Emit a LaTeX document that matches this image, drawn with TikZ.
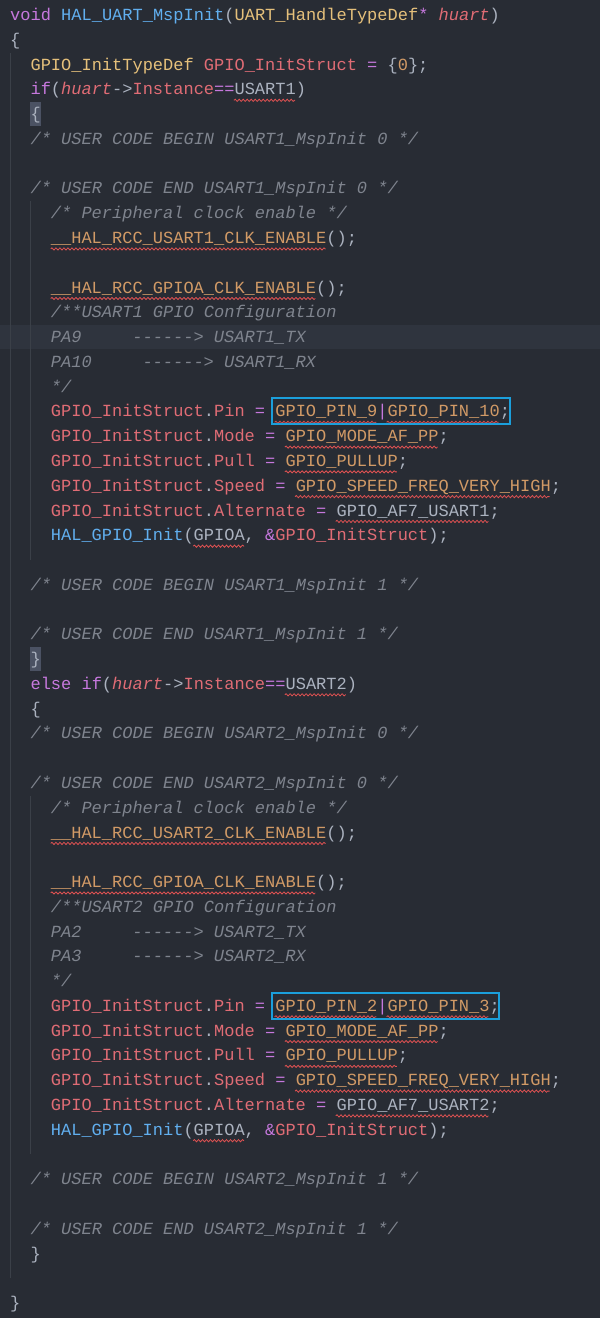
\documentclass[tikz,border=0pt]{standalone}
\usepackage{fontspec}
\setmonofont{Liberation Mono}
\usetikzlibrary{decorations.pathmorphing}
\definecolor{bg}{HTML}{282C34}
\definecolor{kw}{HTML}{C678DD}
\definecolor{fn}{HTML}{61AFEF}
\definecolor{ty}{HTML}{E5C07B}
\definecolor{va}{HTML}{E06C75}
\definecolor{pu}{HTML}{ABB2BF}
\definecolor{nu}{HTML}{D19A66}
\definecolor{co}{HTML}{7F848E}
\definecolor{gd}{HTML}{3B4048}
\definecolor{sq}{HTML}{E05252}
\definecolor{bx}{HTML}{1B9FDB}
\definecolor{hl}{HTML}{2F343E}
\definecolor{bm}{HTML}{4B5263}
\newcommand\K[1]{\textcolor{kw}{#1}}
\newcommand\F[1]{\textcolor{fn}{#1}}
\newcommand\T[1]{\textcolor{ty}{#1}}
\newcommand\V[1]{\textcolor{va}{#1}}
\newcommand\Pu[1]{\textcolor{pu}{#1}}
\newcommand\Nu[1]{\textcolor{nu}{#1}}
\newcommand\Cm[1]{\textcolor{co}{\itshape #1}}
\newcommand\cx[1]{10+#1*10.18}
\newcommand\cy[1]{-(15+(#1-1)*24.77)}
\newcommand\codeln[3]{\node[codetext] (l#1c#2) at ({\cx{#2}},{\cy{#1}-5.6}) {#3};}
\newcommand\sq[3]{\draw[squig] ({\cx{#2}},{\cy{#1}-11}) -- ({\cx{#3}},{\cy{#1}-11});}
\begin{document}
\begin{tikzpicture}[x=1pt,y=1pt,
  codetext/.style={anchor=base west,inner sep=0pt,font=\ttfamily\fontsize{17}{20}\selectfont,text=pu},
  squig/.style={draw=sq,line width=0.8pt,decorate,decoration={snake,segment length=4pt,amplitude=1.1pt}},
  guide/.style={draw=gd,line width=1pt},
  pinbox/.style={draw=bx,line width=2pt}]
\fill[bg] (0,0) rectangle (600,-1318);
\useasboundingbox (0,0) rectangle (600,-1318);
% current line
\fill[hl] (0,{\cy{14}+12.4}) rectangle (600,{\cy{14}-12.4});
% bracket matches
\fill[bm] ({\cx{2}},{\cy{5}+12}) rectangle ({\cx{3}},{\cy{5}-12});
\fill[bm] ({\cx{2}},{\cy{27}+12}) rectangle ({\cx{3}},{\cy{27}-12});
% indent guides
\coordinate (g1a) at (10,{\cy{3}+12});
\coordinate (g1b) at (10,{\cy{52}});
\draw[guide] (g1a) -- (g1b);
\coordinate (g2a) at (30,{\cy{9}+12});
\coordinate (g2b) at (30,{\cy{23}});
\draw[guide] (g2a) -- (g2b);
\coordinate (g3a) at (30,{\cy{33}+12});
\coordinate (g3b) at (30,{\cy{47}});
\draw[guide] (g3a) -- (g3b);

\codeln{1}{0}{\K{void} \F{HAL\_UART\_MspInit}\Pu{(}\T{UART\_HandleTypeDef}\K{*} \V{\itshape huart}\Pu{)}}
\codeln{2}{0}{\{}
\codeln{3}{2}{\T{GPIO\_InitTypeDef} \V{GPIO\_InitStruct} \K{=} \{\Nu{0}\};}
\codeln{4}{2}{\K{if}(\V{\itshape huart}->\V{Instance}\K{==}USART1)}
\sq{4}{22}{28}
\codeln{5}{2}{\{}
\codeln{6}{2}{\Cm{/* USER CODE BEGIN USART1\_MspInit 0 */}}
\codeln{8}{2}{\Cm{/* USER CODE END USART1\_MspInit 0 */}}
\codeln{9}{4}{\Cm{/* Peripheral clock enable */}}
\codeln{10}{4}{\Nu{\_\_HAL\_RCC\_USART1\_CLK\_ENABLE}();}
\sq{10}{4}{31}
\codeln{12}{4}{\Nu{\_\_HAL\_RCC\_GPIOA\_CLK\_ENABLE}();}
\sq{12}{4}{30}
\codeln{13}{4}{\Cm{/**USART1 GPIO Configuration}}
\codeln{14}{4}{\Cm{PA9}}
\codeln{14}{12}{\Cm{------> USART1\_TX}}
\codeln{15}{4}{\Cm{PA10}}
\codeln{15}{13}{\Cm{------> USART1\_RX}}
\codeln{16}{4}{\Cm{*/}}
\codeln{17}{4}{\V{GPIO\_InitStruct}.\V{Pin} \K{=} \Nu{GPIO\_PIN\_9}\K{|}\Nu{GPIO\_PIN\_10};}
\sq{17}{26}{36}\sq{17}{37}{48}
\codeln{18}{4}{\V{GPIO\_InitStruct}.\V{Mode} \K{=} \Nu{GPIO\_MODE\_AF\_PP};}
\sq{18}{27}{42}
\codeln{19}{4}{\V{GPIO\_InitStruct}.\V{Pull} \K{=} \Nu{GPIO\_PULLUP};}
\sq{19}{27}{38}
\codeln{20}{4}{\V{GPIO\_InitStruct}.\V{Speed} \K{=} \Nu{GPIO\_SPEED\_FREQ\_VERY\_HIGH};}
\sq{20}{28}{53}
\codeln{21}{4}{\V{GPIO\_InitStruct}.\V{Alternate} \K{=} GPIO\_AF7\_USART1;}
\sq{21}{32}{47}
\codeln{22}{4}{\F{HAL\_GPIO\_Init}(GPIOA, \K{\&}\V{GPIO\_InitStruct});}
\sq{22}{18}{23}
\codeln{24}{2}{\Cm{/* USER CODE BEGIN USART1\_MspInit 1 */}}
\codeln{26}{2}{\Cm{/* USER CODE END USART1\_MspInit 1 */}}
\codeln{27}{2}{\}}
\codeln{28}{2}{\K{else} \K{if}(\V{\itshape huart}->\V{Instance}\K{==}USART2)}
\sq{28}{27}{33}
\codeln{29}{2}{\{}
\codeln{30}{2}{\Cm{/* USER CODE BEGIN USART2\_MspInit 0 */}}
\codeln{32}{2}{\Cm{/* USER CODE END USART2\_MspInit 0 */}}
\codeln{33}{4}{\Cm{/* Peripheral clock enable */}}
\codeln{34}{4}{\Nu{\_\_HAL\_RCC\_USART2\_CLK\_ENABLE}();}
\sq{34}{4}{31}
\codeln{36}{4}{\Nu{\_\_HAL\_RCC\_GPIOA\_CLK\_ENABLE}();}
\sq{36}{4}{30}
\codeln{37}{4}{\Cm{/**USART2 GPIO Configuration}}
\codeln{38}{4}{\Cm{PA2}}
\codeln{38}{12}{\Cm{------> USART2\_TX}}
\codeln{39}{4}{\Cm{PA3}}
\codeln{39}{12}{\Cm{------> USART2\_RX}}
\codeln{40}{4}{\Cm{*/}}
\codeln{41}{4}{\V{GPIO\_InitStruct}.\V{Pin} \K{=} \Nu{GPIO\_PIN\_2}\K{|}\Nu{GPIO\_PIN\_3};}
\sq{41}{26}{36}\sq{41}{37}{47}
\codeln{42}{4}{\V{GPIO\_InitStruct}.\V{Mode} \K{=} \Nu{GPIO\_MODE\_AF\_PP};}
\sq{42}{27}{42}
\codeln{43}{4}{\V{GPIO\_InitStruct}.\V{Pull} \K{=} \Nu{GPIO\_PULLUP};}
\sq{43}{27}{38}
\codeln{44}{4}{\V{GPIO\_InitStruct}.\V{Speed} \K{=} \Nu{GPIO\_SPEED\_FREQ\_VERY\_HIGH};}
\sq{44}{28}{53}
\codeln{45}{4}{\V{GPIO\_InitStruct}.\V{Alternate} \K{=} GPIO\_AF7\_USART2;}
\sq{45}{32}{47}
\codeln{46}{4}{\F{HAL\_GPIO\_Init}(GPIOA, \K{\&}\V{GPIO\_InitStruct});}
\sq{46}{18}{23}
\codeln{48}{2}{\Cm{/* USER CODE BEGIN USART2\_MspInit 1 */}}
\codeln{50}{2}{\Cm{/* USER CODE END USART2\_MspInit 1 */}}
\codeln{51}{2}{\}}
\codeln{53}{0}{\}}
% highlight boxes
\node[pinbox,inner sep=0pt,minimum height=26pt,minimum width={24pt*10.18-6pt},anchor=west] (box1) at ({\cx{25.6}},{\cy{17}}) {};
\node[pinbox,inner sep=0pt,minimum height=26pt,minimum width={23pt*10.18-7pt},anchor=west] (box2) at ({\cx{25.6}},{\cy{41}}) {};
\end{tikzpicture}
\end{document}
